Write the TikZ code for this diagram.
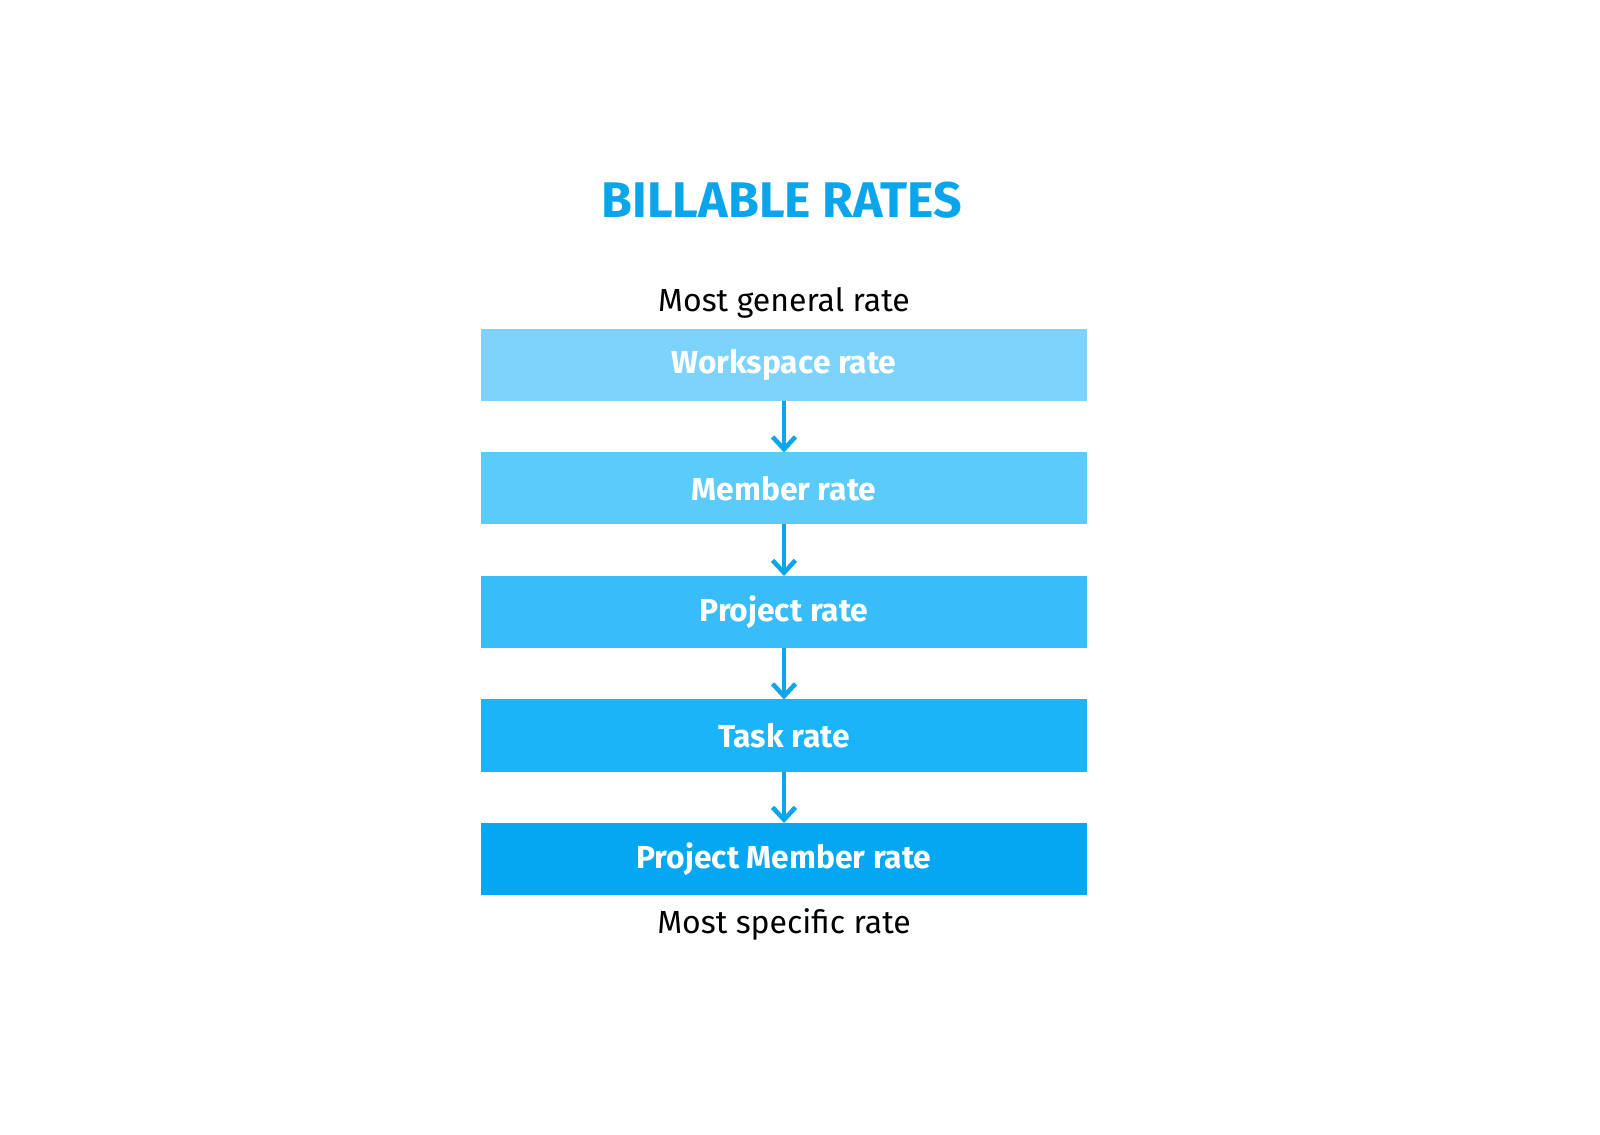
\documentclass[tikz,border=0pt]{standalone}
\usepackage{fontspec}
\setmainfont{Fira Sans}
\usetikzlibrary{arrows.meta,positioning}

\definecolor{titleblue}{HTML}{0BA5EC}
\definecolor{arrowblue}{HTML}{0EA5E9}
\definecolor{rateA}{HTML}{7DD3FC}
\definecolor{rateB}{HTML}{5BCBFA}
\definecolor{rateC}{HTML}{38BDF8}
\definecolor{rateD}{HTML}{1AB4F9}
\definecolor{rateE}{HTML}{04A7F2}

\begin{document}
\begin{tikzpicture}[->,>={Straight Barb[length=7pt,width=13pt]},node distance=1.03cm,line width=2.6pt]
  \tikzstyle{rate}=[minimum width=12.12cm,minimum height=1.44cm,inner sep=0pt,outer sep=0pt,text=white,font=\fontsize{18.1}{21}\selectfont\bfseries]
  \tikzstyle{hint}=[anchor=base,font=\fontsize{18.2}{21}\selectfont]
  \useasboundingbox (0,0) rectangle (32,-22.7);

  \node[font=\fontsize{28.5}{34}\selectfont\bfseries,text=titleblue] (title) at (15.64,-4.0) {BILLABLE RATES};

  \node[rate,fill=rateA] (r0) at (15.68,-7.3) {Workspace rate};
  \node[rate,fill=rateB] (r1) [below=of r0] {Member rate};
  \node[rate,fill=rateC] (r2) [below=of r1] {Project rate};
  \node[rate,fill=rateD] (r3) [below=of r2] {Task rate};
  \node[rate,fill=rateE] (r4) [below=of r3] {Project Member rate};

  \node[hint] (general) at (15.68,-6.24) {Most general rate};
  \node[hint] (specific) at (15.68,-18.66) {Most specific rate};

  \path[draw=arrowblue]
  (r0) edge (r1)
  (r1) edge (r2)
  (r2) edge (r3)
  (r3) edge (r4);
\end{tikzpicture}
\end{document}
